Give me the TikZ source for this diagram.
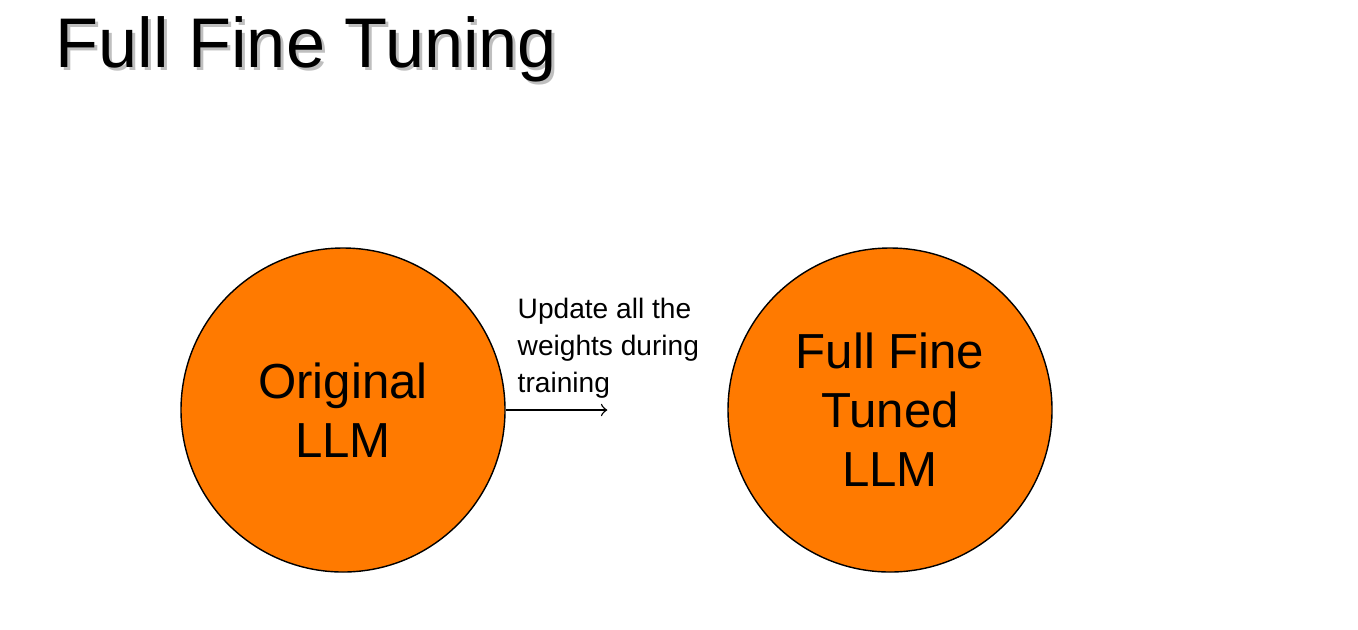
\documentclass[tikz,border=0pt]{standalone}
\usepackage{fontspec}
\setmainfont{Liberation Sans}
\usetikzlibrary{positioning}
\definecolor{llmorange}{HTML}{FF7A00}
\tikzset{
    llm/.style={draw, circle, fill=llmorange, minimum size=3.24cm, inner sep=0pt,
        align=center, font=\fontsize{14}{16.8}\selectfont},
}
\begin{document}
\begin{tikzpicture}
    % Rahmen
    \useasboundingbox (0,0) rectangle (13.58,-6.29);

    % Titel
    \node[anchor=base west, inner sep=0pt, text=black!25, font=\fontsize{20}{24}\selectfont] at (0.58,-0.70) {Full Fine Tuning};
    \node[anchor=base west, inner sep=0pt, font=\fontsize{20}{24}\selectfont] (title) at (0.55,-0.67) {Full Fine Tuning};

    % Kreise
    \node[llm] (orig) at (3.43,-4.10) {Original\\LLM};
    \node[llm] (tuned) at (8.90,-4.10) {Full Fine\\Tuned\\LLM};

    % Pfeil mit Beschriftung
    \draw[->] (orig.east) -- ([xshift=-1.2cm]tuned.west) coordinate (tip);
    \node[anchor=north west, align=left, inner sep=0pt, font=\fontsize{8}{10.6}\selectfont] (lbl) at (5.17,-2.97)
        {Update all the\\weights during\\training};
\end{tikzpicture}
\end{document}
